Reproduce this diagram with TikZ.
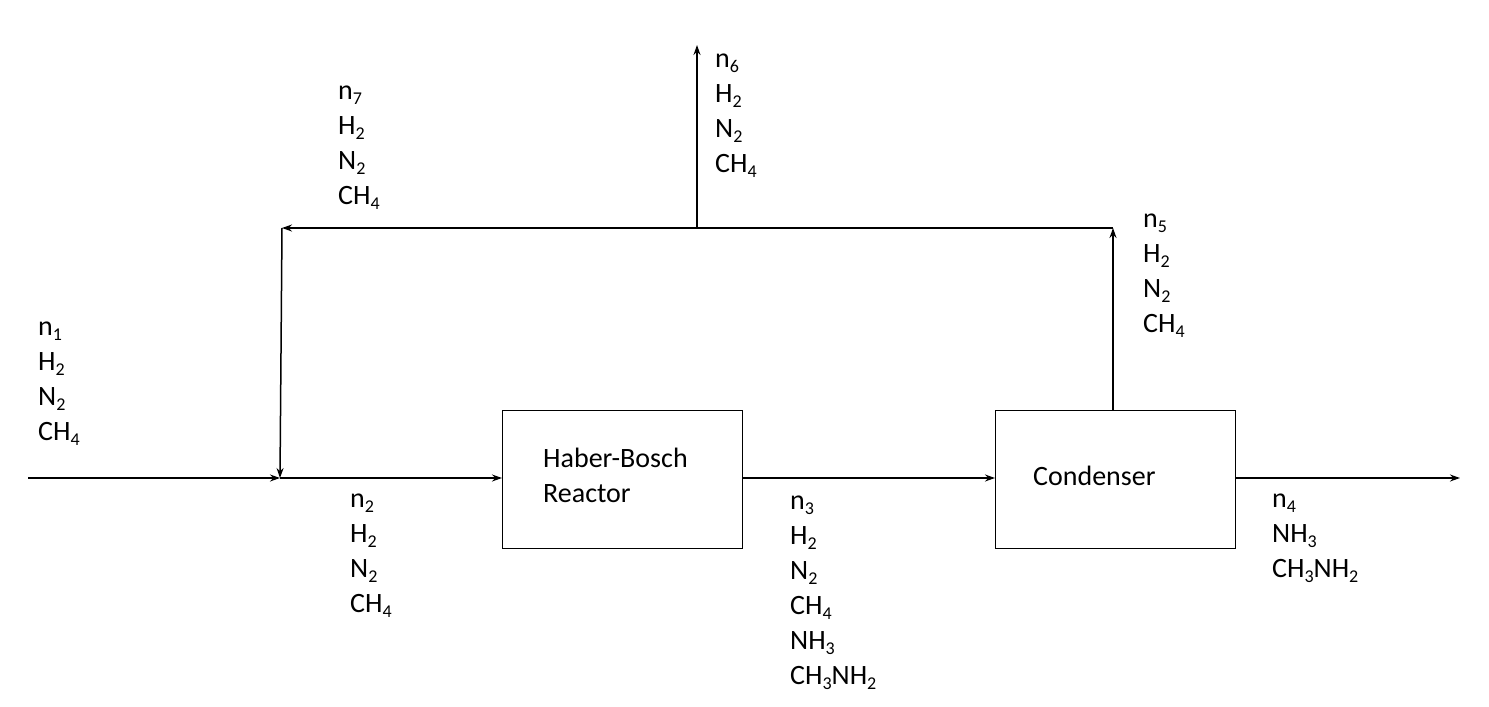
\documentclass[tikz,border=0pt]{standalone}
\usepackage{fontspec}
\setmainfont{Carlito}
\usetikzlibrary{arrows.meta}
\newcommand{\sbs}[1]{\raisebox{-0.35ex}{\fontsize{18}{18}\selectfont #1}}
\begin{document}
\begin{tikzpicture}[x=1pt,y=-1pt,
  lbl/.style={anchor=north west,align=left,inner sep=0pt,font=\fontsize{28}{35}\selectfont},
  box/.style={draw,line width=1pt,minimum width=240pt,minimum height=138pt,anchor=north west,inner sep=0pt},
  flow/.style={line width=1.5pt,-{Stealth[length=10pt,width=7pt]}}]
\useasboundingbox (0,0) rectangle (1489,707);
\node[box] (R) at (502,410) {};
\node[box] (C) at (995,410) {};
\node[lbl] at (543,448) {Haber-Bosch\\Reactor};
\node[lbl] at (1033,466) {Condenser};
\coordinate (in) at (28,478);
\coordinate (mix) at (280,478);
\coordinate (tl) at (282,228);
\coordinate (tr) at (1113,228);
\coordinate (tp) at (697,228);
\coordinate (purge) at (697,45);
\coordinate (out) at (1460,478);
\draw[flow] (in) -- (mix);
\draw[flow] (mix) -- (R.west |- mix);
\draw[flow] (R.east |- mix) -- (C.west |- mix);
\draw[flow] (C.east |- mix) -- (out);
\draw[flow] (C.north -| tr) -- (tr);
\draw[flow] (tr) -- (tl);
\draw[flow] (tl) -- (mix);
\draw[flow] (tp) -- (purge);
\node[lbl] at (38,322) {n\sbs{1}\\H\sbs{2}\\N\sbs{2}\\CH\sbs{4}};
\node[lbl] at (338,86) {n\sbs{7}\\H\sbs{2}\\N\sbs{2}\\CH\sbs{4}};
\node[lbl] at (715,54) {n\sbs{6}\\H\sbs{2}\\N\sbs{2}\\CH\sbs{4}};
\node[lbl] at (1143,214) {n\sbs{5}\\H\sbs{2}\\N\sbs{2}\\CH\sbs{4}};
\node[lbl] at (350,494) {n\sbs{2}\\H\sbs{2}\\N\sbs{2}\\CH\sbs{4}};
\node[lbl] at (790,496) {n\sbs{3}\\H\sbs{2}\\N\sbs{2}\\CH\sbs{4}\\NH\sbs{3}\\CH\sbs{3}NH\sbs{2}};
\node[lbl] at (1272,494) {n\sbs{4}\\NH\sbs{3}\\CH\sbs{3}NH\sbs{2}};
\end{tikzpicture}
\end{document}
